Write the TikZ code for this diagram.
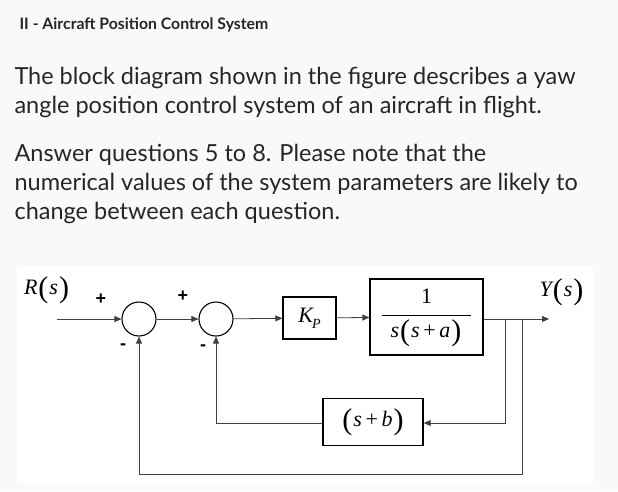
\documentclass[tikz,border=0pt]{standalone}
\usepackage{fontspec}
\setmainfont{Lato}
\newfontfamily\tms{Liberation Serif}
\newfontfamily\arl{Liberation Sans}
\usetikzlibrary{arrows.meta}
\newcommand{\bigP}[1]{{\tms\upshape\fontsize{30}{30}\selectfont\kern1pt\raisebox{-3pt}{#1}\kern1pt}}
\begin{document}
\begin{tikzpicture}[x=1pt,y=-1pt,
  blk/.style={draw,line width=1.3pt,inner sep=0pt},
  sumc/.style={draw,circle,line width=1.1pt,minimum size=34pt,inner sep=0pt},
  ln/.style={line width=0.8pt,draw=black!75},
  arr/.style={ln,-{Triangle[length=7pt,width=6pt]}},
  sgn/.style={font=\arl\bfseries\fontsize{18}{18}\selectfont},
  mth/.style={font=\tms\itshape\fontsize{22}{24}\selectfont}]
\fill[gray!5] (0,0) rectangle (618,491);
\useasboundingbox (0,0) rectangle (618,491);
\node[anchor=west,font=\bfseries\fontsize{15.8}{18}\selectfont,text=black!85] (hd) at (16,25) {II - Aircraft Position Control System};
\node[anchor=north west,align=left,font=\fontsize{23.5}{29}\selectfont,text=black!85] (p1) at (11,64) {The block diagram shown in the figure describes a yaw\\angle position control system of an aircraft in flight.};
\node[anchor=north west,align=left,font=\fontsize{23.5}{29}\selectfont,text=black!85] (p2) at (11,141) {Answer questions 5 to 8. Please note that the\\numerical values of the system parameters are likely to\\change between each question.};
\fill[white] (17,266) rectangle (593,484);
\node[sumc] (c1) at (139,319) {};
\node[sumc] (c2) at (216,319) {};
\node[blk,minimum width=53pt,minimum height=42pt,mth] (kp) at (309.5,318) {K\kern-1pt\raisebox{-6pt}{\fontsize{14}{14}\selectfont P}};
\node[blk,minimum width=113pt,minimum height=76pt,mth] (g) at (426.5,317) {};
\node[mth,inner sep=0pt] (gn) at (426.5,296) {\upshape 1};
\node[mth,inner sep=0pt] (gd) at (426.5,333) {s\bigP{(}s\,\upshape+\,\itshape a\bigP{)}};
\draw[line width=0.9pt] (382,315) -- (471,315);
\node[blk,minimum width=100pt,minimum height=47pt,mth] (h) at (373,422) {\bigP{(}s\,\upshape+\,\itshape b\bigP{)}};
\coordinate (in) at (57,319);
\coordinate (out) at (549,319);
\coordinate (t1) at (505,319);
\coordinate (t2) at (522,319);
\coordinate (t1b) at (505,423);
\coordinate (t2b) at (522,474);
\coordinate (b1) at (139,474);
\coordinate (hb) at (216,423);
\draw[arr] (in) -- (c1);
\draw[arr] (c1) -- (c2);
\draw[arr] (c2) -- (kp);
\draw[arr] (kp) -- (g);
\draw[arr] (g.east|-out) -- (out);
\draw[arr] (t1) -- (t1b) -- (h.east|-t1b);
\draw[arr] (h.west|-hb) -- (hb) -- (c2.south);
\draw[arr] (t2) -- (t2b) -- (b1) -- (c1.south);
\node[mth] (r) at (47,290) {R\bigP{(}s\bigP{)}};
\node[mth] (y) at (562,292) {Y\bigP{(}s\bigP{)}};
\node[sgn] (p1s) at (101,299) {+};
\node[sgn] (p2s) at (183,296) {+};
\node[sgn] (m1s) at (123,347) {-};
\node[sgn] (m2s) at (203,348) {-};
\end{tikzpicture}
\end{document}
